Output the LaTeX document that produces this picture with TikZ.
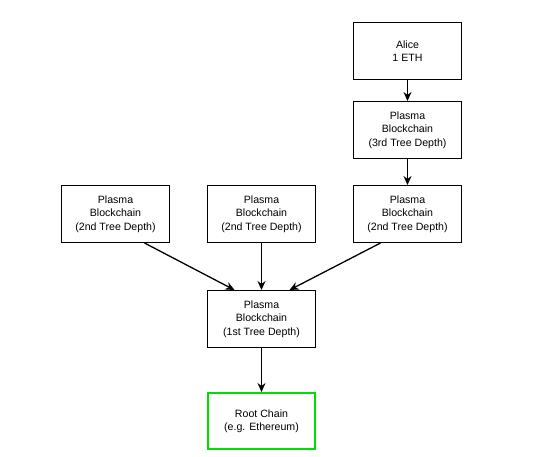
\documentclass[tikz,border=0pt]{standalone}
\usepackage{fontspec}
\setmainfont{Liberation Sans}
\definecolor{rootGreen}{HTML}{00DD00}
\usetikzlibrary{arrows.meta, positioning}

\begin{document}
\begin{tikzpicture}[x=1pt, y=1pt, node distance=40pt,
  chainbox/.style={draw, line width=1.3pt, minimum width=107.7pt, minimum height=56.7pt,
    inner sep=2pt, align=center, font=\fontsize{10.6}{13.5}\selectfont},
  feed/.style={-{Stealth[length=9pt, width=8pt]}, line width=1.3pt}]
\useasboundingbox (0,0) rectangle (546,-456);

% root chain and the tree above it
\node[chainbox, draw=rootGreen, line width=2pt, minimum width=107pt, minimum height=56pt]
  (root) at (261.5,-421) {Root Chain\\(e.g. Ethereum)};
\node[chainbox, above=44pt of root] (depthA) {Plasma\\Blockchain\\(1st Tree Depth)};
\node[chainbox, above=47pt of depthA] (depthBmid) {Plasma\\Blockchain\\(2nd Tree Depth)};
\node[chainbox, left=37pt of depthBmid] (depthBleft) {Plasma\\Blockchain\\(2nd Tree Depth)};
\node[chainbox, right=37pt of depthBmid] (depthBright) {Plasma\\Blockchain\\(2nd Tree Depth)};
\node[chainbox, above=26pt of depthBright] (depthC) {Plasma\\Blockchain\\(3rd Tree Depth)};
\node[chainbox, above=21pt of depthC] (alice) {Alice\\1 ETH};

\draw[feed] (alice) -- (depthC);
\draw[feed] (depthC) -- (depthBright);
\draw[feed] ([xshift=29pt]depthBleft.south) -- ([xshift=-27pt]depthA.north);
\draw[feed] (depthBmid) -- (depthA);
\draw[feed] ([xshift=-27pt]depthBright.south) -- ([xshift=28pt]depthA.north);
\draw[feed] (depthA) -- (root);
\end{tikzpicture}
\end{document}
